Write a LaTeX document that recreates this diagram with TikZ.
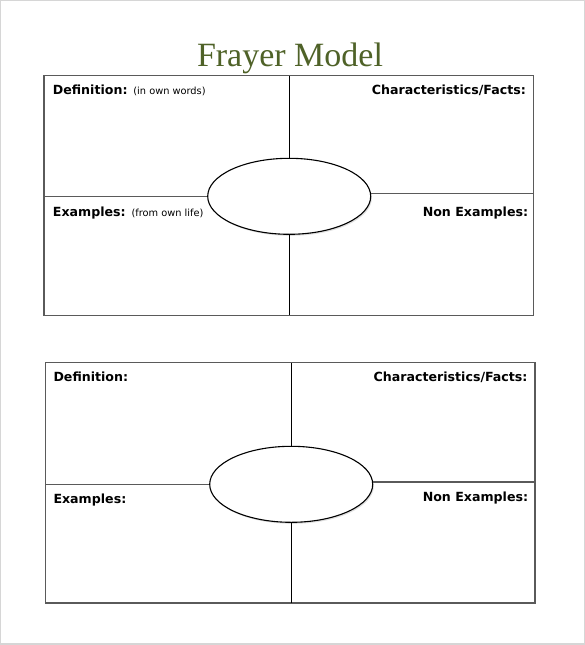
\documentclass[tikz,border=0pt]{standalone}
\usepackage{fontspec}
\setmainfont{DejaVu Sans}
\newfontfamily\titlefont{Liberation Serif}
\usetikzlibrary{shapes.geometric,shadows}
\definecolor{titlegreen}{RGB}{79,98,40}
\definecolor{framegray}{RGB}{90,90,90}
\definecolor{pagegray}{RGB}{214,214,214}
\newcommand\notefont{\mdseries\fontsize{9.8}{11}\selectfont}

\begin{document}
\begin{tikzpicture}[x=1pt,y=-1pt,
  box/.style={draw=framegray, line width=1.5pt},
  divider/.style={draw=black, line width=1.4pt},
  oval/.style={ellipse, draw=black, line width=1.1pt, fill=white, inner sep=0pt,
    minimum width=163pt, minimum height=76pt,
    drop shadow={opacity=0.25, shadow xshift=1.2pt, shadow yshift=-1.5pt}},
  head/.style={inner sep=0pt, font=\bfseries\fontsize{12.6}{14}\selectfont}]

\useasboundingbox (0,0) rectangle (585,645);
\fill[pagegray] (0,0) rectangle (585,645);
\fill[white] (1.2,1.2) rectangle (583.8,643);

\node[font=\titlefont\fontsize{34}{38}\selectfont, text=titlegreen, anchor=base, inner sep=0pt] (title) at (290,66) {Frayer Model};

% first model
\coordinate (nw1) at (44,75.7);
\coordinate (se1) at (533.7,315.3);
\draw[box] (nw1) rectangle (se1);
\node[oval] (oval1) at (289.2,196.3) {};
\coordinate (r1) at ([yshift=2.6pt]oval1.east);
\draw[divider] (oval1.north) -- (oval1.north |- nw1);
\draw[divider] (oval1.south) -- (oval1.south |- se1);
\draw[box] (oval1.west) -- (oval1.west -| nw1);
\draw[box] (r1) -- (r1 -| se1);

\node[head, anchor=base west] (def1) at (52.7,94) {Definition: {\notefont(in own words)}};
\node[head, anchor=base west] (ex1) at (52.7,216) {Examples: {\notefont(from own life)}};
\node[head, anchor=base east] (char1) at (526,94) {Characteristics/Facts:};
\node[head, anchor=base east] (non1) at (528.3,216) {Non Examples:};

% second model
\coordinate (nw2) at (45.7,362.7);
\coordinate (se2) at (535,603);
\draw[box] (nw2) rectangle (se2);
\node[oval] (oval2) at (291.2,484.3) {};
\coordinate (r2) at ([yshift=2.3pt]oval2.east);
\draw[divider] (oval2.north) -- (oval2.north |- nw2);
\draw[divider] (oval2.south) -- (oval2.south |- se2);
\draw[box] (oval2.west) -- (oval2.west -| nw2);
\draw[box] (r2) -- (r2 -| se2);

\node[head, anchor=base west] (def2) at (53.3,381.7) {Definition:};
\node[head, anchor=base west] (ex2) at (53.3,503.7) {Examples:};
\node[head, anchor=base east] (char2) at (527.7,381) {Characteristics/Facts:};
\node[head, anchor=base east] (non2) at (528.3,501) {Non Examples:};
\end{tikzpicture}
\end{document}
